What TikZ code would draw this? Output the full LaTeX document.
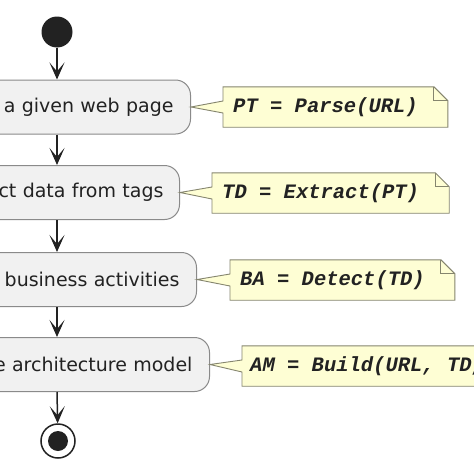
\documentclass[tikz,border=0pt]{standalone}
\usepackage{fontspec}
\setmainfont{DejaVu Sans}
\newfontfamily\notefont{Liberation Mono}
\usetikzlibrary{arrows.meta}
\definecolor{boxfill}{HTML}{F1F1F1}
\definecolor{boxdraw}{HTML}{8A8A8A}
\definecolor{notefill}{HTML}{FEFED4}
\definecolor{notedraw}{HTML}{85856E}
\definecolor{ink}{HTML}{222222}
\tikzset{
  act/.style={draw=boxdraw, fill=boxfill, line width=1pt, rounded corners=15pt,
    anchor=east, minimum height=54pt, inner xsep=17pt, inner ysep=0pt, align=right,
    text width=#1, text=ink, font=\fontsize{19}{22}\selectfont},
  notetxt/.style={anchor=west, inner xsep=10pt, inner ysep=0pt, minimum height=40pt, text=ink,
    font={\notefont\fontsize{20.5}{24}\selectfont\bfseries\itshape}},
  noteline/.style={draw=notedraw, fill=notefill, line width=0.9pt, line join=miter},
  flow/.style={draw=ink, line width=1.5pt, -{Stealth[length=17pt,width=15pt,inset=9pt]}},
  startnode/.style={circle, fill=ink, minimum size=31pt, inner sep=0pt},
  endouter/.style={circle, draw=ink, fill=white, line width=1.5pt, minimum size=34pt, inner sep=0pt},
  endinner/.style={circle, fill=ink, minimum size=20pt, inner sep=0pt}
}
\newcommand\notebox[2]{%
  \path[noteline] (#1.north west) -- ([xshift=-14pt]#1.north east)
    -- ([yshift=-14pt]#1.north east) -- (#1.south east) -- (#1.south west)
    -- ([yshift=-6pt]#1.west) -- (#2.east) -- ([yshift=6pt]#1.west) -- cycle;
  \draw[noteline, fill=none] ([xshift=-14pt]#1.north east)
    -- ([xshift=-14pt,yshift=-14pt]#1.north east) -- ([yshift=-14pt]#1.north east);
}
\begin{document}
\begin{tikzpicture}[x=1pt,y=-1pt]
\useasboundingbox (0,0) rectangle (474,474);
\clip (0,0) rectangle (474,474);
\fill[white] (0,0) rectangle (474,474);

\node[startnode] (start) at (57,32) {};
\node[act=234pt] (b1) at (191,107) {a given web page};
\node[act=212pt, inner xsep=16pt] (b2) at (180,192.5) {ct data from tags};
\node[act=246pt] (b3) at (197,279.5) {business activities};
\node[act=272pt] (b4) at (210,364.5) {e architecture model};
\node[endouter] (end) at (58,441) {};
\node[endinner] (endi) at (end.center) {};

\node[notetxt] (n1) at (223,107) {PT = Parse(URL)\hspace*{20pt}};
\node[notetxt] (n2) at (212,193) {TD = Extract(PT)\hspace*{20pt}};
\node[notetxt] (n3) at (230,280) {BA = Detect(TD)\hspace*{20pt}};
\node[notetxt, inner xsep=8pt] (n4) at (242,366) {AM = Build(URL, TD, BA)\hspace*{20pt}};

\notebox{n1}{b1}
\notebox{n2}{b2}
\notebox{n3}{b3}
\notebox{n4}{b4}
\node[notetxt] at (223,107) {PT = Parse(URL)\hspace*{20pt}};
\node[notetxt] at (212,193) {TD = Extract(PT)\hspace*{20pt}};
\node[notetxt] at (230,280) {BA = Detect(TD)\hspace*{20pt}};
\node[notetxt, inner xsep=8pt] at (242,366) {AM = Build(URL, TD, BA)\hspace*{20pt}};

\draw[flow] (start) -- (start |- b1.north);
\draw[flow] (start |- b1.south) -- (start |- b2.north);
\draw[flow] (start |- b2.south) -- (start |- b3.north);
\draw[flow] (start |- b3.south) -- (start |- b4.north);
\draw[flow] (start |- b4.south) -- (end);
\end{tikzpicture}
\end{document}
